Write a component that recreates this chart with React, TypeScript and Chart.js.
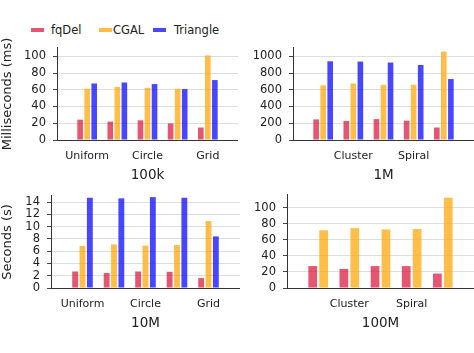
import React, { useEffect, useRef } from "react";
import { Chart, registerables } from "chart.js";

Chart.register(...registerables);
Chart.defaults.font.family = "'DejaVu Sans', sans-serif";
Chart.defaults.color = "#222";

// ---- data ----
const categories = ["Uniform", "Cluster", "Circle", "Spiral", "Grid"];
const leftShown = ["Uniform", "Circle", "Grid"];
const rightShown = ["Cluster", "Spiral"];

const fq100k = [24.3, 22, 23.5, 19.8, 14.9];
const cgal100k = [61.2, 63.4, 62.3, 61.2, 101];
const tri100k = [67.5, 68.7, 66.8, 60.8, 71.6];

const fq1M = [246, 228, 250, 231, 149];
const cgal1M = [653, 675, 660, 660, 1056];
const tri1M = [940, 937, 925, 896, 728];

const fq10M = [2.69, 2.44, 2.69, 2.64, 1.62];
const cgal10M = [6.85, 7.1, 6.9, 7.0, 10.9];
const tri10M = [14.7, 14.6, 14.8, 14.7, 8.4];

const fq100M = [27.3, 23.8, 27.3, 27.3, 18];
const cgal100M = [71.9, 74.6, 73, 73.4, 112.5];
const tri100M = [null, null, null, null, null];

const seriesNames = ["fqDel", "CGAL", "Triangle"];
const seriesColors = [
  "rgba(220,20,60,0.72)",
  "rgba(255,165,0,0.72)",
  "rgba(0,0,255,0.72)",
];

type PanelCfg = {
  left: number;
  top: number;
  width: number;
  height: number;
  yw: number;
  series: (number | null)[][];
  shown: string[];
  yMax: number;
  yStep: number;
  yTitle: string;
  xTitle: string;
};

const labels = ["", ...categories, " "];

function Panel({ cfg }: { cfg: PanelCfg }) {
  const ref = useRef<HTMLCanvasElement>(null);
  useEffect(() => {
    if (!ref.current) return;
    const chart = new Chart(ref.current, {
      type: "bar",
      data: {
        labels,
        datasets: cfg.series.map((vals, i) => ({
          label: seriesNames[i],
          data: [null, ...vals, null],
          backgroundColor: seriesColors[i],
          borderWidth: 0,
          categoryPercentage: 0.7,
          barPercentage: 0.8,
          skipNull: true,
        })),
      },
      options: {
        animation: false,
        responsive: false,
        devicePixelRatio: 1,
        layout: { padding: { top: 8, left: 0, right: 0, bottom: 0 } },
        plugins: { legend: { display: false }, tooltip: { enabled: false } },
        scales: {
          x: {
            offset: false,
            grid: { display: false, drawTicks: true, tickLength: 10 },
            border: { display: true, color: "#333", width: 1 },
            ticks: {
              autoSkip: false,
              maxRotation: 0,
              minRotation: 0,
              padding: 0,
              font: { size: 11 },
              color: "#222",
              callback: function (this: any, _v: any, idx: number) {
                const l = labels[idx];
                return cfg.shown.includes(l) ? l : "";
              },
            },
            title: {
              display: true,
              text: cfg.xTitle,
              font: { size: 13.5 },
              color: "#222",
              padding: { top: 0, bottom: 0 },
            },
            afterFit: (s: any) => {
              s.height = 44;
            },
          },
          y: {
            min: 0,
            max: cfg.yMax,
            grid: {
              color: "#dedede",
              lineWidth: 1,
              drawTicks: true,
              tickLength: 4,
              tickColor: "#444",
            },
            border: { display: true, color: "#333", width: 1 },
            ticks: {
              stepSize: cfg.yStep,
              includeBounds: false,
              autoSkip: false,
              padding: 7,
              font: { size: 11.5 },
              color: "#222",
              callback: (v: any) => String(v),
            },
            title: {
              display: cfg.yTitle !== "",
              text: cfg.yTitle,
              font: { size: 13 },
              color: "#222",
              padding: { top: 0, bottom: 0 },
            },
            afterFit: (s: any) => {
              s.width = cfg.yw;
            },
          },
        },
      },
    });
    return () => chart.destroy();
  }, [cfg]);
  return (
    <canvas
      ref={ref}
      width={cfg.width}
      height={cfg.height}
      style={{
        position: "absolute",
        left: cfg.left,
        top: cfg.top,
        width: cfg.width,
        height: cfg.height,
      }}
    />
  );
}

const panels: PanelCfg[] = [
  {
    left: 0, top: 34, width: 238, height: 150, yw: 57,
    series: [fq100k, cgal100k, tri100k], shown: leftShown,
    yMax: 110, yStep: 20, yTitle: "Milliseconds (ms)", xTitle: "100k",
  },
  {
    left: 253, top: 34, width: 221, height: 150, yw: 40,
    series: [fq1M, cgal1M, tri1M], shown: rightShown,
    yMax: 1100, yStep: 200, yTitle: "", xTitle: "1M",
  },
  {
    left: 0, top: 182, width: 240, height: 150, yw: 51,
    series: [fq10M, cgal10M, tri10M], shown: leftShown,
    yMax: 15, yStep: 2, yTitle: "Seconds (s)", xTitle: "10M",
  },
  {
    left: 247, top: 181, width: 227, height: 151, yw: 40,
    series: [fq100M, cgal100M, tri100M], shown: rightShown,
    yMax: 116, yStep: 20, yTitle: "", xTitle: "100M",
  },
];

const legendPos = [
  { sw: 31, tx: 51 },
  { sw: 99, tx: 113 },
  { sw: 153, tx: 174 },
];

export default function App() {
  return (
    <div
      style={{
        position: "absolute",
        left: 0,
        top: 0,
        width: 474,
        height: 353,
        overflow: "hidden",
        background: "#fff",
        fontFamily: "'DejaVu Sans', sans-serif",
      }}
    >
      {seriesNames.map((n, i) => (
        <React.Fragment key={n}>
          <div
            style={{
              position: "absolute",
              left: legendPos[i].sw,
              top: 28,
              width: 13,
              height: 4,
              background: seriesColors[i],
            }}
          />
          <div
            style={{
              position: "absolute",
              left: legendPos[i].tx,
              top: 22,
              fontSize: 11.5,
              lineHeight: "16px",
              color: "#222",
              whiteSpace: "nowrap",
            }}
          >
            {n}
          </div>
        </React.Fragment>
      ))}
      {panels.map((p, i) => (
        <Panel key={i} cfg={p} />
      ))}
    </div>
  );
}
